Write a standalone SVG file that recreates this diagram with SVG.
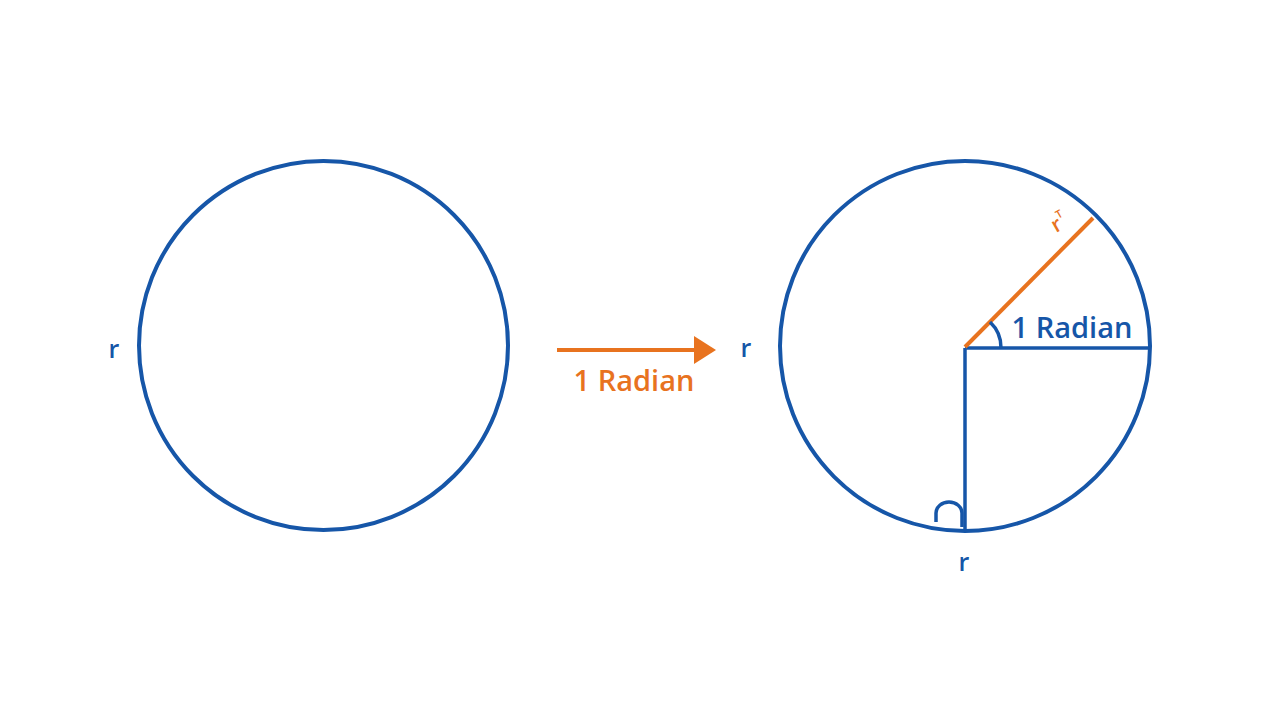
<svg xmlns="http://www.w3.org/2000/svg" width="1280" height="720" viewBox="0 0 1280 720">
<style>
.c{fill:none;stroke:#1656a8;stroke-width:4}
.b{fill:none;stroke:#1656a8;stroke-width:3.5}
.o{fill:none;stroke:#e8731f;stroke-width:4}
.tb{font-family:"Open Sans","Liberation Sans",sans-serif;font-weight:600;fill:#1656a8}
.to{font-family:"Open Sans","Liberation Sans",sans-serif;font-weight:600;fill:#e8731f}
</style>
<rect width="1280" height="720" fill="#ffffff"/>
<g id="left-circle">
<circle class="c" cx="323.5" cy="345.5" r="184.5"/>
<text class="tb" x="114" y="358" font-size="25" text-anchor="middle">r</text>
</g>
<g id="connectors">
<line class="o" x1="557" y1="350" x2="697" y2="350"/>
<path d="M694,336 L716,350 L694,364 Z" fill="#e8731f"/>
</g>
<g id="arrow-label">
<text class="to" x="634" y="391" font-size="29" text-anchor="middle">1 Radian</text>
</g>
<g id="right-circle">
<circle class="c" cx="965" cy="346" r="185"/>
<line class="b" x1="965" y1="348" x2="1150" y2="348"/>
<line class="b" x1="965" y1="348" x2="965" y2="530"/>
<line class="o" x1="965" y1="347" x2="1093" y2="218"/>
<path class="b" d="M990,322 A35,35 0 0 1 1001,348" stroke-width="4"/>
<path class="b" d="M936,522 L936,513 A13,11 0 0 1 962,513 L962,527" stroke-width="4"/>
<text class="tb" x="746" y="357" font-size="25" text-anchor="middle">r</text>
<text class="tb" x="964" y="571" font-size="25" text-anchor="middle">r</text>
<text class="tb" x="1072" y="338" font-size="29" text-anchor="middle">1 Radian</text>
<text class="to" x="1056" y="233" font-size="21" transform="rotate(-30 1056 233)">r<tspan font-size="11" dy="-11">T</tspan></text>
</g>
</svg>
